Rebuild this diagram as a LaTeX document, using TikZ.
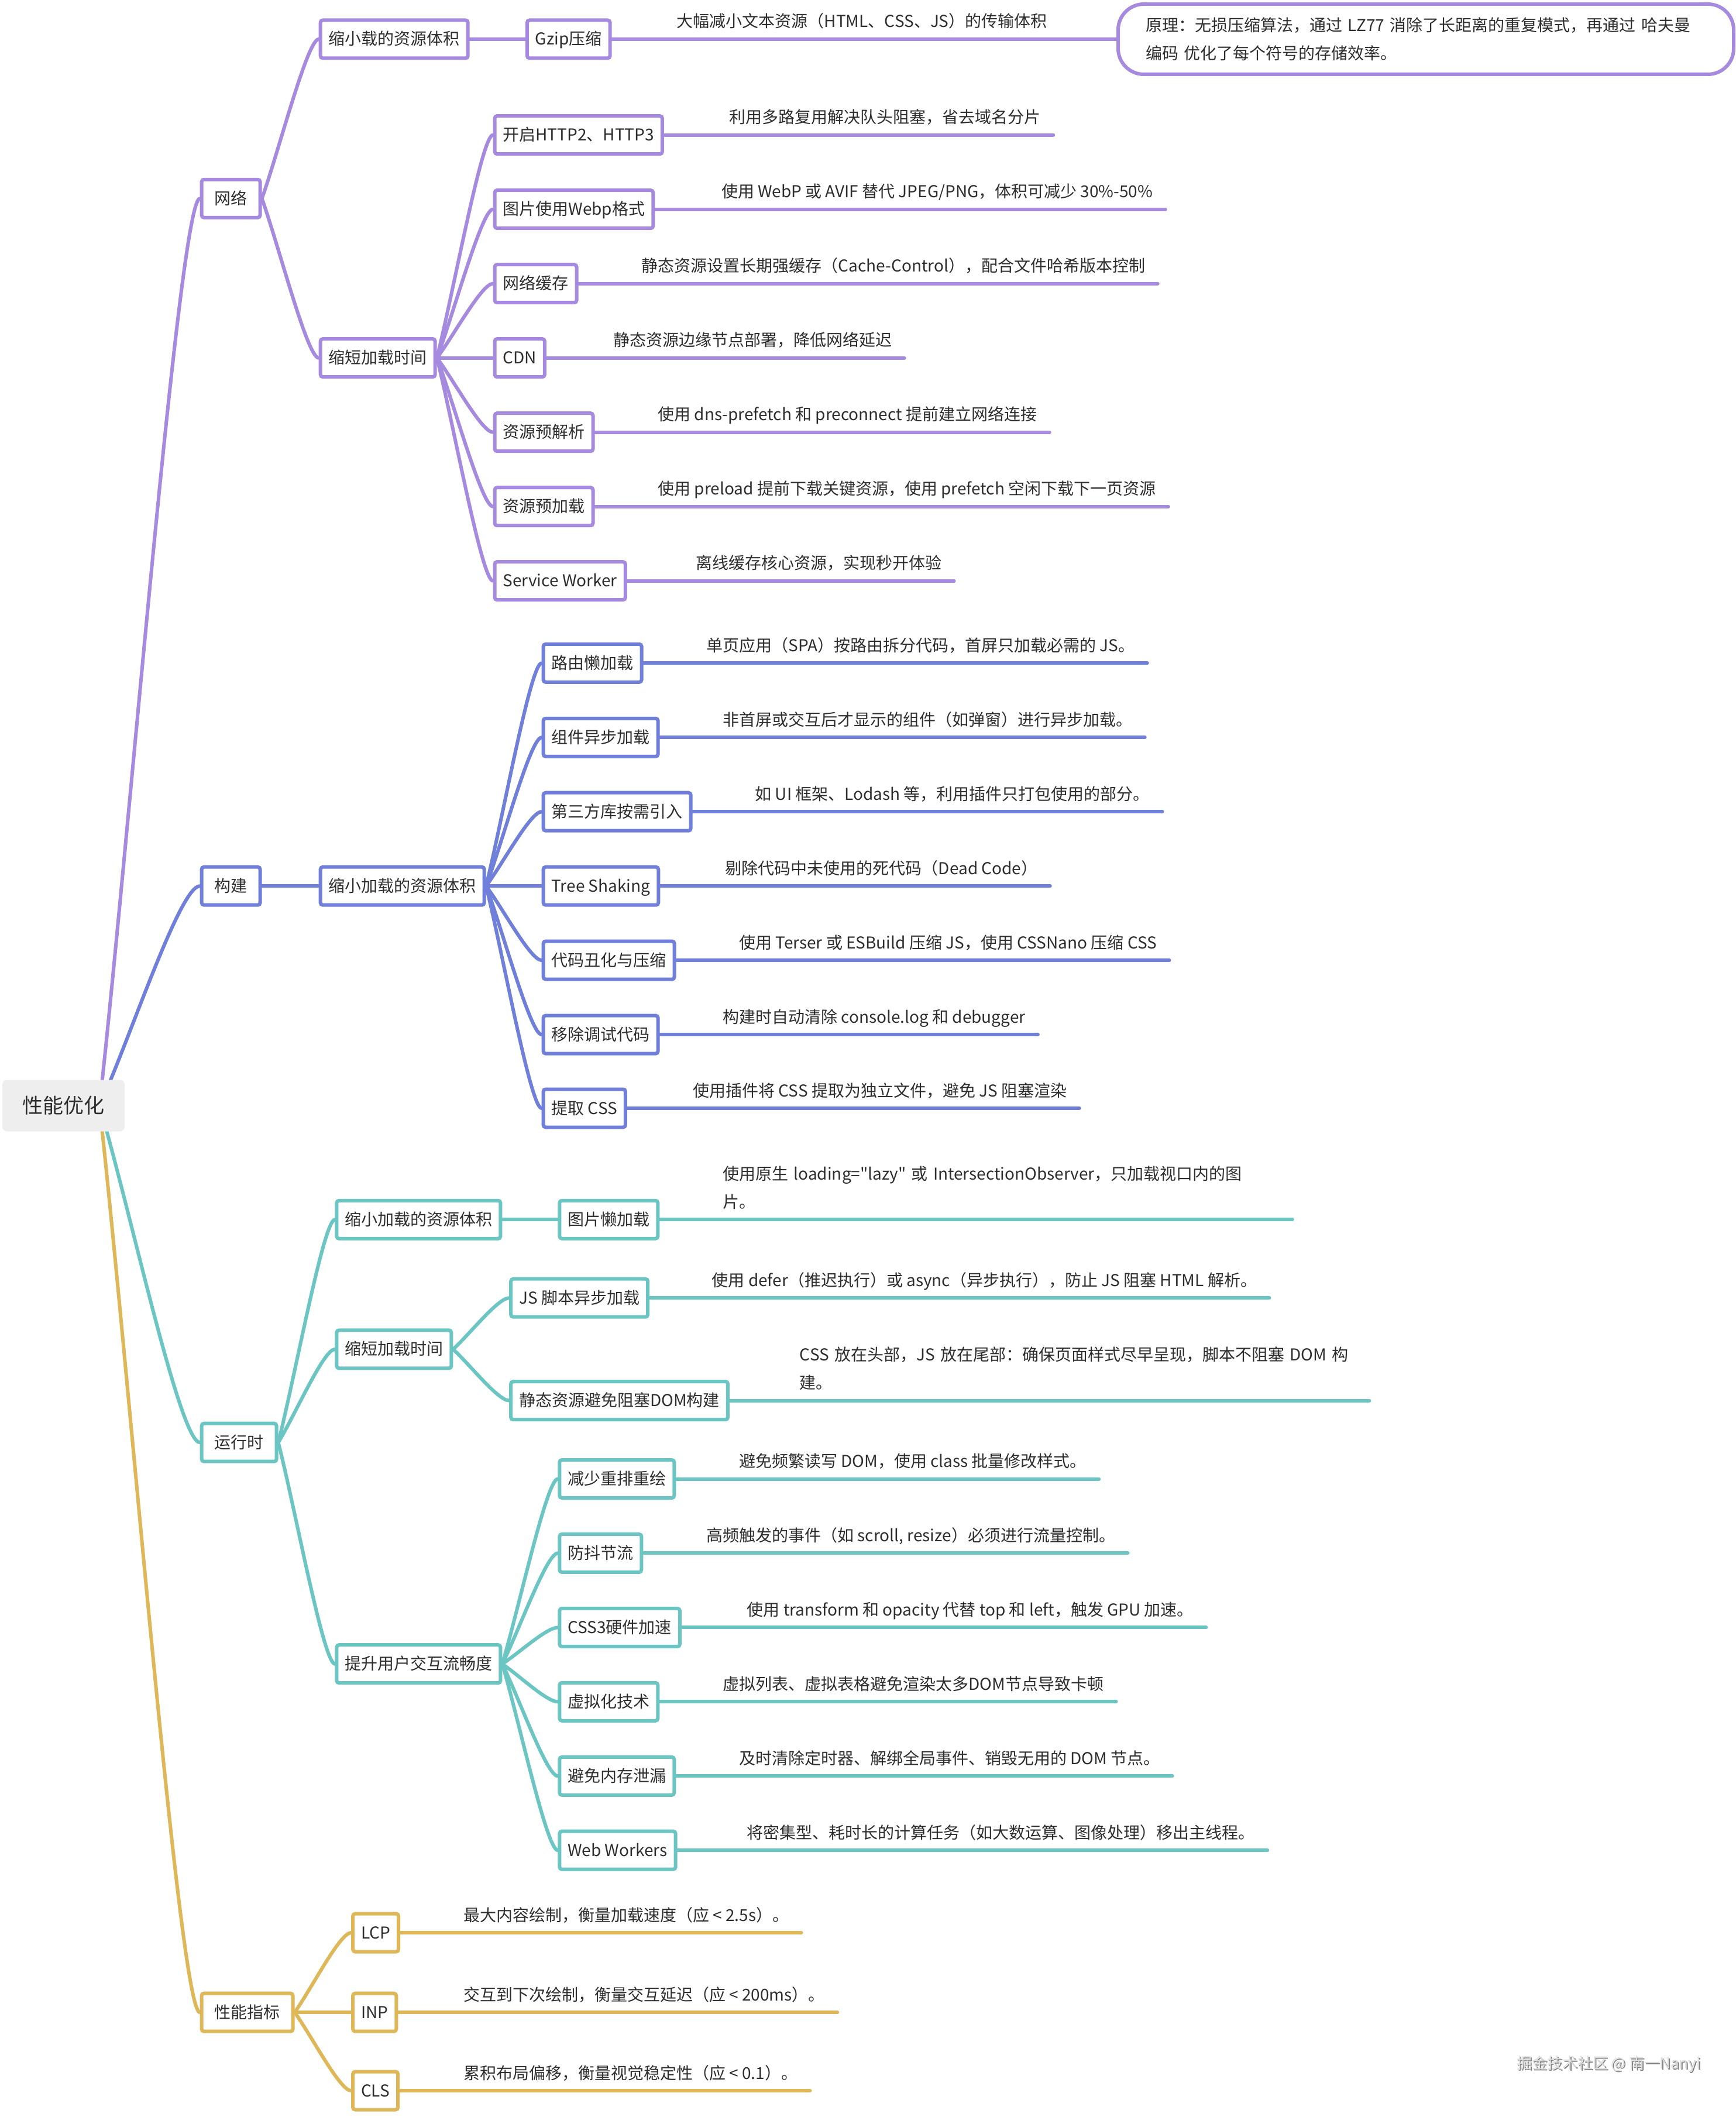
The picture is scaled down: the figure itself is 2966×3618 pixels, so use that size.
\documentclass[tikz,border=0pt]{standalone}
\usepackage{fontspec}
\setmainfont{Noto Sans CJK SC}
\usetikzlibrary{calc}
\definecolor{cpurple}{RGB}{165,138,224}
\definecolor{cblue}{RGB}{111,127,218}
\definecolor{cteal}{RGB}{107,197,195}
\definecolor{cgold}{RGB}{222,183,88}
\definecolor{ctext}{RGB}{45,45,45}
\definecolor{croot}{RGB}{238,238,238}
\definecolor{wmlight}{RGB}{222,222,222}
\definecolor{wmdark}{RGB}{130,130,130}
\newcommand\straightquote{\XeTeXglyph\XeTeXcharglyph"22\relax}
\pgfdeclarelayer{background}
\pgfsetlayers{background,main}
\begin{document}
\begin{tikzpicture}[x=0.5pt,y=-0.5pt,
  every node/.style={text=ctext, font=\fontsize{14pt}{24pt}\selectfont},
  box/.style={draw=#1, fill=white, line width=3pt, rounded corners=2pt, anchor=west,
    minimum height=32.5pt, inner xsep=7pt, inner ysep=0pt, text height=12pt, text depth=2pt},
  topbox/.style={box=#1, inner xsep=11pt},
  leaf/.style={anchor=base west, inner xsep=10.5pt, inner ysep=0pt},
  leaftwo/.style={leaf, text width=476pt, align=left},
  conn/.style={draw=#1, line width=3pt, line cap=round},
  curve/.style={to path={let \p1=(\tikztostart), \p2=(\tikztotarget) in
    .. controls ({\x1+0.3*(\x2-\x1)},{\y1+0.3*(\y2-\y1)}) and ({\x1+0.8*(\x2-\x1)},{\y2}) .. (\tikztotarget)}}
]
\begin{pgfonlayer}{background}
\fill[white] (0,0) rectangle (2966,3618);
\end{pgfonlayer}
\useasboundingbox (0,0) rectangle (2966,3618);

% root
\node[fill=croot, rounded corners=4pt, minimum width=104.5pt, minimum height=44pt,
  font=\fontsize{17.5pt}{20pt}\selectfont, text height=15pt, text depth=2.5pt] (root) at (108.5,1889.5) {性能优化};
\coordinate (rc) at (170,1890);

% level 1
\node[topbox=cpurple] (net) at (341.6,339.3) {网络};
\node[topbox=cblue] (build) at (341.6,1514.2) {构建};
\node[topbox=cteal] (run) at (341.6,2465.2) {运行时};
\node[topbox=cgold] (metric) at (341.6,3439.2) {性能指标};

% network
\node[box=cpurple] (n1) at (544.7,67) {缩小载的资源体积};
\node[box=cpurple] (n1a) at (897.9,67) {Gzip压缩};
\node[leaf] (n1at) at (1135.4,47) {大幅减小文本资源（HTML、CSS、JS）的传输体积};
\node[draw=cpurple, line width=3pt, fill=white, rounded corners=22pt, anchor=west,
  minimum width=526pt, minimum height=60pt, text width=479pt, inner xsep=23.5pt, inner ysep=0pt, align=left]
  (pr) at (1908,67) {\mbox{原理：无损压缩算法，通过 LZ77 消除了长距离的重复模式，再通过 哈夫曼}\\\mbox{编码 优化了每个符号的存储效率。}};
\node[box=cpurple] (n2) at (544.7,611.7) {缩短加载时间};
\node[box=cpurple] (n21) at (842.5,230.7) {开启HTTP2、HTTP3};
\node[box=cpurple] (n22) at (842.5,357.7) {图片使用Webp格式};
\node[box=cpurple] (n23) at (842.5,484.7) {网络缓存};
\node[box=cpurple] (n24) at (842.5,611.7) {CDN};
\node[box=cpurple] (n25) at (842.5,738.7) {资源预解析};
\node[box=cpurple] (n26) at (842.5,865.7) {资源预加载};
\node[box=cpurple] (n27) at (842.5,992.7) {Service Worker};
\node[leaf] (n21t) at (1225.4,210.7) {利用多路复用解决队头阻塞，省去域名分片};
\node[leaf] (n22t) at (1211.6,337.7) {使用 WebP 或 AVIF 替代 JPEG/PNG，体积可减少 30\%-50\%};
\node[leaf] (n23t) at (1075.4,464.7) {静态资源设置长期强缓存（Cache-Control），配合文件哈希版本控制};
\node[leaf] (n24t) at (1026.9,591.7) {静态资源边缘节点部署，降低网络延迟};
\node[leaf] (n25t) at (1103.1,718.7) {使用 dns-prefetch 和 preconnect 提前建立网络连接};
\node[leaf] (n26t) at (1103.1,845.7) {使用 preload 提前下载关键资源，使用 prefetch 空闲下载下一页资源};
\node[leaf] (n27t) at (1167.7,972.7) {离线缓存核心资源，实现秒开体验};

% build
\node[box=cblue] (b1) at (544.7,1514.2) {缩小加载的资源体积};
\node[box=cblue] (b11) at (925.6,1133.3) {路由懒加载};
\node[box=cblue] (b12) at (925.6,1260.3) {组件异步加载};
\node[box=cblue] (b13) at (925.6,1387.2) {第三方库按需引入};
\node[box=cblue] (b14) at (925.6,1514.2) {Tree Shaking};
\node[box=cblue] (b15) at (925.6,1641.1) {代码丑化与压缩};
\node[box=cblue] (b16) at (925.6,1768.1) {移除调试代码};
\node[box=cblue] (b17) at (925.6,1894) {提取 CSS};
\node[leaf] (b11t) at (1186.2,1113.3) {单页应用（SPA）按路由拆分代码，首屏只加载必需的 JS。};
\node[leaf] (b12t) at (1213.9,1240.3) {非首屏或交互后才显示的组件（如弹窗）进行异步加载。};
\node[leaf] (b13t) at (1269.3,1367.2) {如 UI 框架、Lodash 等，利用插件只打包使用的部分。};
\node[leaf] (b14t) at (1218.5,1494.2) {剔除代码中未使用的死代码（Dead Code）};
\node[leaf] (b15t) at (1241.6,1621.1) {使用 Terser 或 ESBuild 压缩 JS，使用 CSSNano 压缩 CSS};
\node[leaf] (b16t) at (1213.9,1748.1) {构建时自动清除 console.log 和 debugger};
\node[leaf] (b17t) at (1163.1,1874) {使用插件将 CSS 提取为独立文件，避免 JS 阻塞渲染};

% runtime
\node[box=cteal] (r1) at (572.4,2084.3) {缩小加载的资源体积};
\node[box=cteal] (r1a) at (953.3,2084.3) {图片懒加载};
\node[leaftwo] (r1at) at (1213.9,2016.3) {\mbox{使用原生 loading=\straightquote lazy\straightquote{} 或 IntersectionObserver，只加载视口内的图}\\\mbox{片。}};
\node[box=cteal] (r2) at (572.4,2305.9) {缩短加载时间};
\node[box=cteal] (r2a) at (870.2,2218.2) {JS 脚本异步加载};
\node[leaf] (r2at) at (1195.4,2198.2) {使用 defer（推迟执行）或 async（异步执行），防止 JS 阻塞 HTML 解析。};
\node[box=cteal] (r2b) at (870.2,2393.6) {静态资源避免阻塞DOM构建};
\node[leaftwo] (r2bt) at (1345.5,2325.6) {\mbox{CSS 放在头部，JS 放在尾部：确保页面样式尽早呈现，脚本不阻塞 DOM 构}\\\mbox{建。}};
\node[box=cteal] (r3) at (572.4,2843.7) {提升用户交互流畅度};
\node[box=cteal] (r31) at (953.3,2527.5) {减少重排重绘};
\node[box=cteal] (r32) at (953.3,2654.4) {防抖节流};
\node[box=cteal] (r33) at (953.3,2781.4) {CSS3硬件加速};
\node[box=cteal] (r34) at (953.3,2908.3) {虚拟化技术};
\node[box=cteal] (r35) at (953.3,3035.3) {避免内存泄漏};
\node[box=cteal] (r36) at (953.3,3162.2) {Web Workers};
\node[leaf] (r31t) at (1241.6,2507.5) {避免频繁读写 DOM，使用 class 批量修改样式。};
\node[leaf] (r32t) at (1186.2,2634.4) {高频触发的事件（如 scroll, resize）必须进行流量控制。};
\node[leaf] (r33t) at (1255.4,2761.4) {使用 transform 和 opacity 代替 top 和 left，触发 GPU 加速。};
\node[leaf] (r34t) at (1213.9,2888.3) {虚拟列表、虚拟表格避免渲染太多DOM节点导致卡顿};
\node[leaf] (r35t) at (1241.6,3015.3) {及时清除定时器、解绑全局事件、销毁无用的 DOM 节点。};
\node[leaf] (r36t) at (1255.4,3142.2) {将密集型、耗时长的计算任务（如大数运算、图像处理）移出主线程。};

% metrics
\node[box=cgold] (m1) at (600.1,3303) {LCP};
\node[box=cgold] (m2) at (600.1,3439.2) {INP};
\node[box=cgold] (m3) at (600.1,3573) {CLS};
\node[leaf] (m1t) at (770.7,3283) {最大内容绘制，衡量加载速度（应 < 2.5s）。};
\node[leaf] (m2t) at (770.7,3419.2) {交互到下次绘制，衡量交互延迟（应 < 200ms）。};
\node[leaf] (m3t) at (770.7,3553) {累积布局偏移，衡量视觉稳定性（应 < 0.1）。};

% watermark
\node[anchor=west, text=wmdark, font=\fontsize{13pt}{15pt}\selectfont] (wms) at (2587,3529) {掘金技术社区 @ 南一Nanyi};
\node[anchor=west, text=wmlight, font=\fontsize{13pt}{15pt}\selectfont] (wm) at (2585,3527) {掘金技术社区 @ 南一Nanyi};

\begin{pgfonlayer}{background}
% root connectors
\draw[conn=cpurple] (rc) to[curve] (net.west);
\draw[conn=cblue] (rc) to[curve] (build.west);
\draw[conn=cteal] (rc) to[curve] (run.west);
\draw[conn=cgold] (rc) to[curve] (metric.west);
% network
\draw[conn=cpurple] (net.east) to[curve] (n1.west);
\draw[conn=cpurple] (net.east) to[curve] (n2.west);
\draw[conn=cpurple] (n1.east) -- (n1a.west);
\draw[conn=cpurple] (n1a.east) -- (pr.west);
\foreach \c in {n21,n22,n23,n24,n25,n26,n27}{
  \draw[conn=cpurple] (n2.east) to[curve] (\c.west);
  \draw[conn=cpurple] (\c.east) -- (\c.east -| \c t.east);
}
% build
\draw[conn=cblue] (build.east) -- (b1.west);
\foreach \c in {b11,b12,b13,b14,b15,b16,b17}{
  \draw[conn=cblue] (b1.east) to[curve] (\c.west);
  \draw[conn=cblue] (\c.east) -- (\c.east -| \c t.east);
}
% runtime
\foreach \c in {r1,r2,r3}{
  \draw[conn=cteal] (run.east) to[curve] (\c.west);
}
\draw[conn=cteal] (r1.east) -- (r1a.west);
\draw[conn=cteal] (r1a.east) -- (r1a.east -| r1at.east);
\foreach \c in {r2a,r2b}{
  \draw[conn=cteal] (r2.east) to[curve] (\c.west);
  \draw[conn=cteal] (\c.east) -- (\c.east -| \c t.east);
}
\foreach \c in {r31,r32,r33,r34,r35,r36}{
  \draw[conn=cteal] (r3.east) to[curve] (\c.west);
  \draw[conn=cteal] (\c.east) -- (\c.east -| \c t.east);
}
% metrics
\foreach \c in {m1,m2,m3}{
  \draw[conn=cgold] (metric.east) to[curve] (\c.west);
  \draw[conn=cgold] (\c.east) -- (\c.east -| \c t.east);
}
\end{pgfonlayer}
\end{tikzpicture}
\end{document}
